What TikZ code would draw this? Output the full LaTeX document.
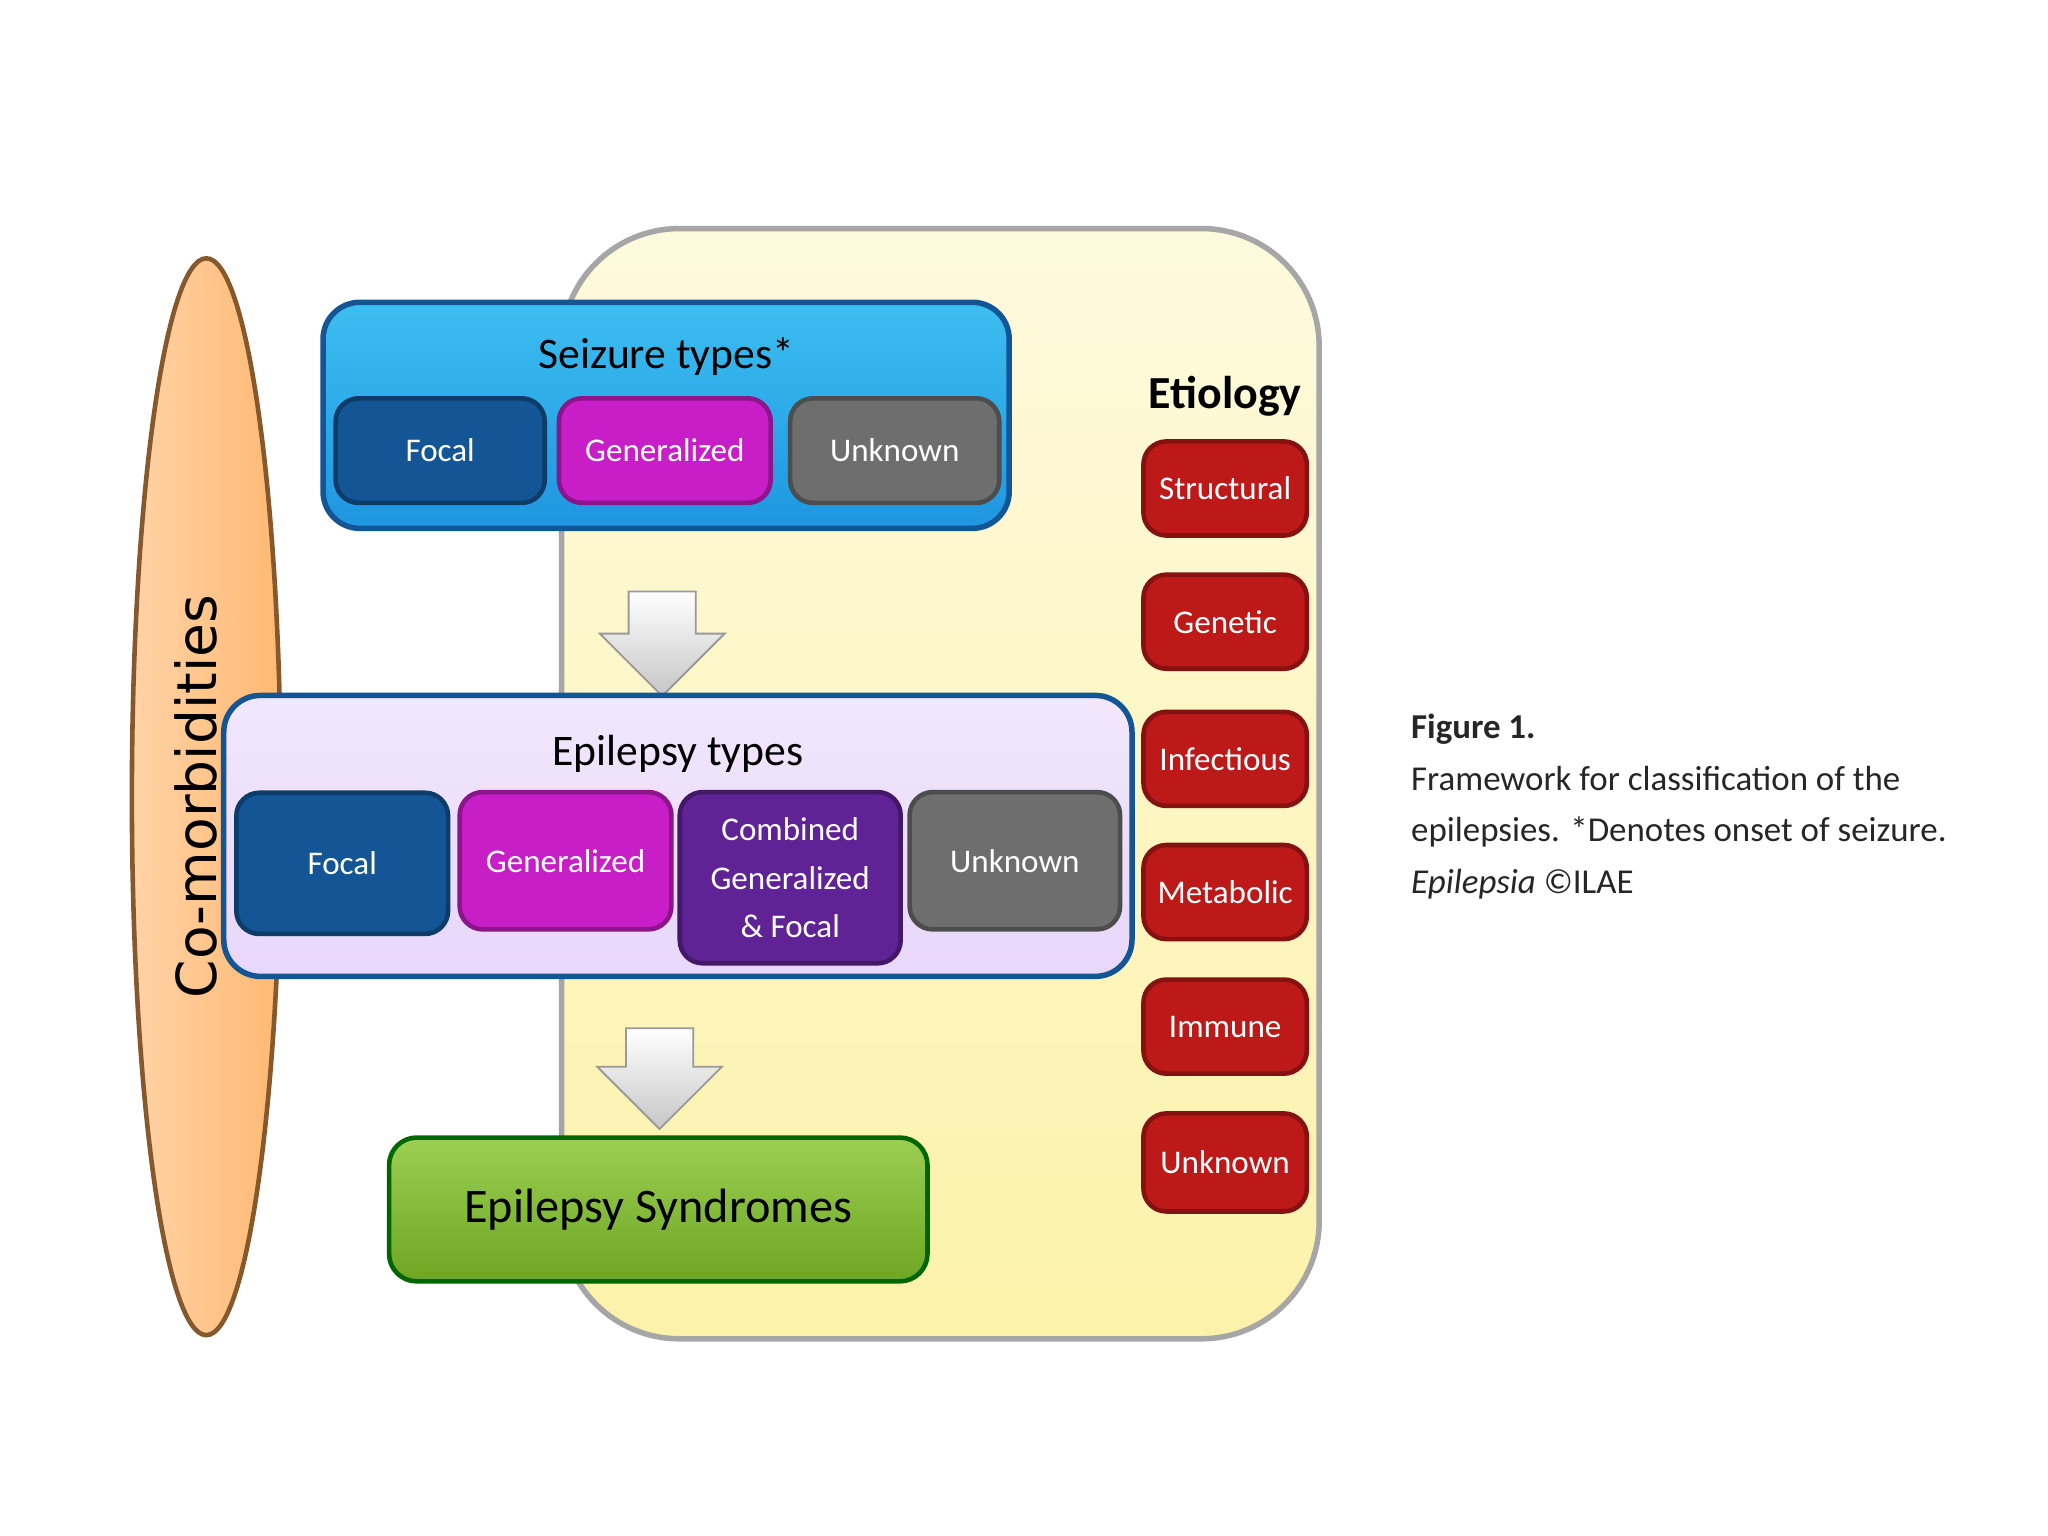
\documentclass[tikz,border=0pt]{standalone}
\usepackage{fontspec}
\setmainfont{Carlito}
\newfontfamily\dejavu{DejaVu Sans}
\usetikzlibrary{shapes.arrows,shapes.geometric}
\definecolor{sblue}{RGB}{30,150,225}
\definecolor{sbluetop}{RGB}{60,190,240}
\definecolor{dblue}{RGB}{20,85,150}
\definecolor{mag}{RGB}{200,30,200}
\definecolor{gry}{RGB}{110,110,110}
\definecolor{purp}{RGB}{95,35,150}
\definecolor{red1}{RGB}{190,25,25}
\definecolor{grn}{RGB}{130,195,40}
\definecolor{lav}{RGB}{232,215,250}
\definecolor{yel}{RGB}{252,242,170}
\begin{document}
\begin{tikzpicture}[x=0.01cm,y=-0.01cm,
  inner/.style={draw=#1!70!black,line width=1pt,fill=#1,rounded corners=5pt,
    text=white,font=\fontsize{7.2}{9}\selectfont,align=center,inner sep=0pt},
  etio/.style={inner=red1,minimum width=1.25cm,minimum height=0.72cm},
  barrow/.style={single arrow,draw=gray!80,top color=white,bottom color=gray!45,
    shape border rotate=270,minimum height=0.8cm,minimum width=0.95cm,
    single arrow head extend=0.22cm,inner sep=0.25cm}]
\useasboundingbox (0,0) rectangle (1568,1176);
\fill[white] (0,0) rectangle (1568,1176);
% yellow background
\draw[gray!70,line width=1.2pt,top color=yel!40,bottom color=yel,rounded corners=0.9cm]
  (430,1025) -- (430,175) -- (1010,175) -- (1010,1025) -- cycle;
% co-morbidities
\node[ellipse,draw=brown!70!black,line width=1pt,left color=orange!35,right color=orange!55,
  minimum width=1.14cm,minimum height=8.24cm] (como) at (158,610) {};
\node[rotate=90,font=\dejavu\fontsize{12}{14}\selectfont] (comot) at (150,610) {Co-morbidities};
% seizure types
\node[draw=dblue,line width=1.2pt,top color=sbluetop,bottom color=sblue,rounded corners=8pt,
  minimum width=5.25cm,minimum height=1.73cm] (seiz) at (510,318) {};
\node[font=\fontsize{9.5}{11}\selectfont] (seizt) at (510,273) {Seizure types*};
\node[inner=dblue,minimum width=1.6cm,minimum height=0.8cm] (sf) at (337,345) {Focal};
\node[inner=mag,minimum width=1.62cm,minimum height=0.8cm] (sg) at (509,345) {Generalized};
\node[inner=gry,minimum width=1.6cm,minimum height=0.8cm] (su) at (685,345) {Unknown};
% arrow 1
\node[barrow] (a1) at (507,480) {};
% epilepsy types
\node[draw=dblue,line width=1.2pt,top color=lav!60,bottom color=lav,rounded corners=8pt,
  minimum width=6.95cm,minimum height=2.15cm] (epi) at (519,640) {};
\node[font=\fontsize{9.5}{11}\selectfont] (epit) at (519,577) {Epilepsy types};
\node[inner=dblue,minimum width=1.62cm,minimum height=1.08cm] (ef) at (262,661) {Focal};
\node[inner=mag,minimum width=1.62cm,minimum height=1.05cm] (eg) at (433,659) {Generalized};
\node[inner=purp,minimum width=1.69cm,minimum height=1.31cm] (ec) at (605,672)
  {Combined\\[1.5pt]Generalized\\[1.5pt]\& Focal};
\node[inner=gry,minimum width=1.61cm,minimum height=1.05cm] (eu) at (777,659) {Unknown};
% arrow 2
\node[barrow,minimum height=0.7cm] (a2) at (505,813) {};
% syndromes
\node[draw=green!40!black,line width=1pt,top color=grn!80!white,bottom color=grn!85!black,
  rounded corners=6pt,minimum width=4.12cm,minimum height=1.1cm,
  font=\fontsize{10.5}{12}\selectfont] (syn) at (504,926) {Epilepsy Syndromes};
% etiology
\node[font=\bfseries\fontsize{10}{12}\selectfont] (etit) at (938,303) {Etiology};
\node[etio] (e1) at (938,374) {Structural};
\node[etio] (e2) at (938,476) {Genetic};
\node[etio] (e3) at (938,581) {Infectious};
\node[etio] (e4) at (938,683) {Metabolic};
\node[etio] (e5) at (938,786) {Immune};
\node[etio,minimum height=0.75cm] (e6) at (938,890) {Unknown};
% caption
\node[anchor=north west,align=left,font=\fontsize{7.6}{11.3}\selectfont,text=black!85]
  (cap) at (1068,534)
  {\textbf{Figure 1.}\\Framework for classification of the\\
   epilepsies. *Denotes onset of seizure.\\\textit{Epilepsia} \copyright ILAE};
\end{tikzpicture}
\end{document}
